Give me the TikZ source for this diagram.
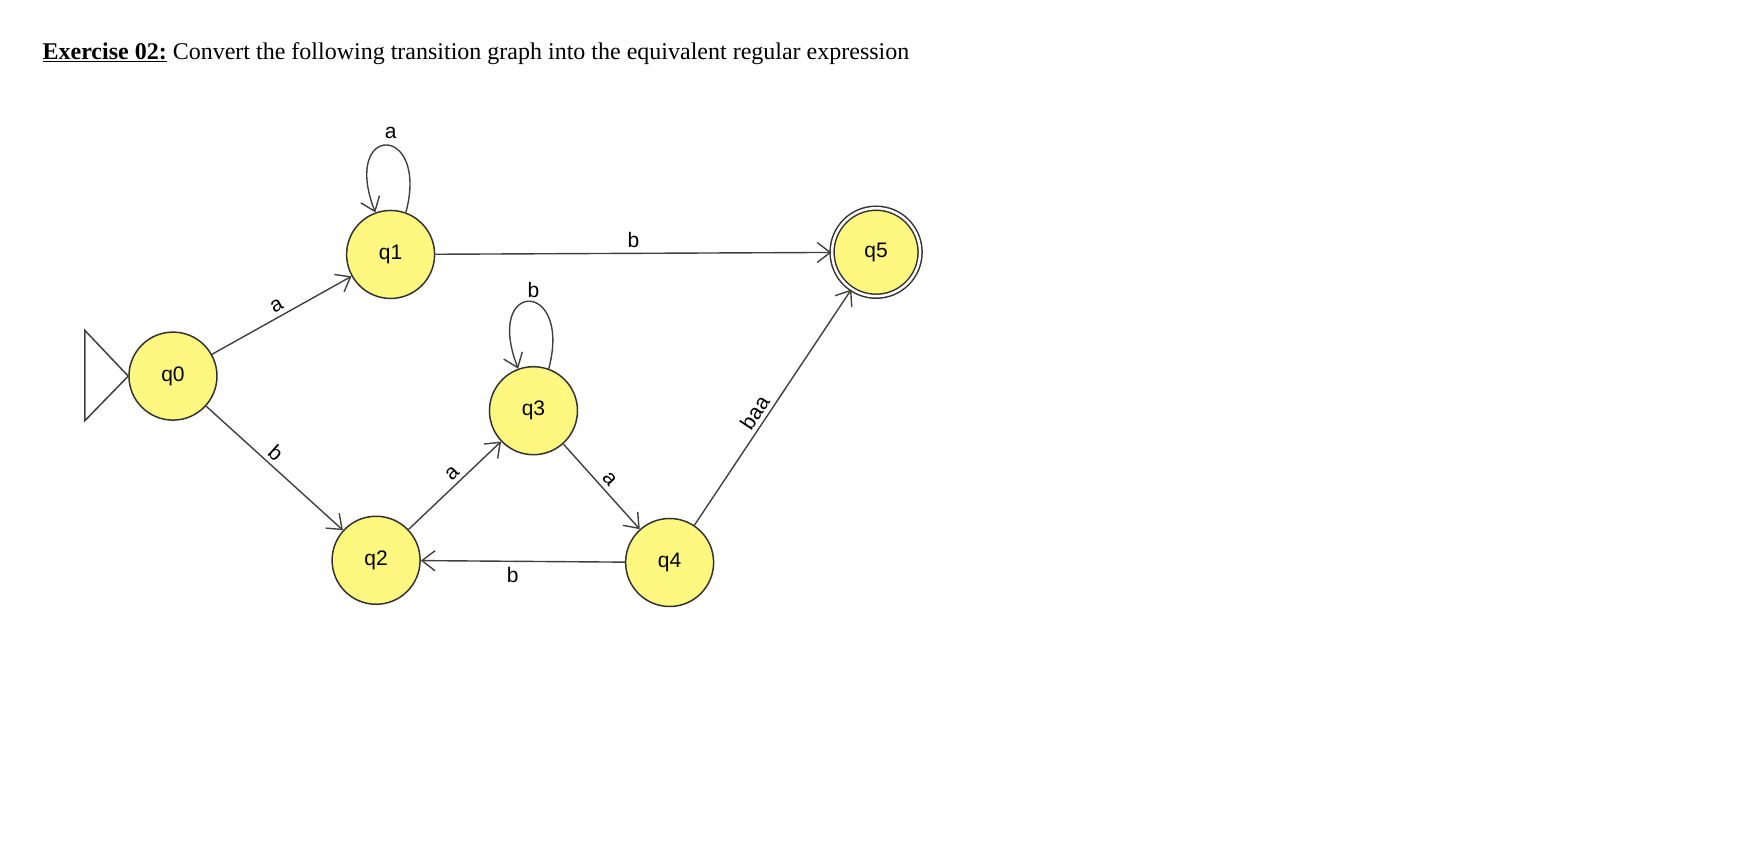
\documentclass[tikz,border=0pt]{standalone}
\usepackage{fontspec}
\setmainfont{Liberation Serif}
\newfontfamily\lab{Liberation Sans}
\usetikzlibrary{arrows.meta}
\begin{document}
\begin{tikzpicture}[x=1.116pt,y=-1.116pt,
  st/.style={circle,draw=black!80,fill=yellow!50!white,minimum size=88pt,inner sep=0pt,font=\lab\fontsize{21}{21}\selectfont, line width=1.5pt},
  tr/.style={draw=black!75,line width=1.4pt,-{Straight Barb[length=13pt,width=20pt,line width=1.4pt]}},
  lb/.style={font=\lab\fontsize{21}{21}\selectfont,inner sep=1pt}]
\useasboundingbox (0,0) rectangle (1560,758);
\node[anchor=west,font=\fontsize{24}{28}\selectfont] (title) at (35,48) {\textbf{\underline{Exercise 02:}} Convert the following transition graph into the equivalent regular expression};
\node[st] (q0) at (155,337) {q0};
\node[st] (q1) at (350,228) {q1};
\node[st] (q2) at (337,502) {q2};
\node[st] (q3) at (478,368) {q3};
\node[st] (q4) at (600,504) {q4};
\node[st,double,double distance=2.5pt] (q5) at (785,226) {q5};
\coordinate (i1) at (76,296); \coordinate (i2) at (76,377);
\draw[black!75,line width=1.5pt] (i1) -- (q0.west) -- (i2) -- cycle;
\draw[tr] (q1.70) .. controls (385,110) and (305,110) .. (q1.110);
\node[lb] (l11) at (350,119) {a};
\draw[tr] (q3.70) .. controls (513,250) and (433,250) .. (q3.110);
\node[lb] (l33) at (478,260) {b};
\draw[tr] (q0) -- node[lb,sloped,above=3pt]{a} (q1);
\draw[tr] (q0) -- node[lb,sloped,above=3pt,pos=0.45]{b} (q2);
\draw[tr] (q1) -- node[lb,above=4pt]{b} (q5);
\draw[tr] (q2) -- node[lb,sloped,above=3pt,pos=0.55]{a} (q3);
\draw[tr] (q3) -- node[lb,sloped,above=3pt]{a} (q4);
\draw[tr] (q4) -- node[lb,below=4pt,pos=0.55]{b} (q2);
\draw[tr] (q4) -- node[lb,sloped,above=3pt,pos=0.45]{baa} (q5);
\end{tikzpicture}
\end{document}
